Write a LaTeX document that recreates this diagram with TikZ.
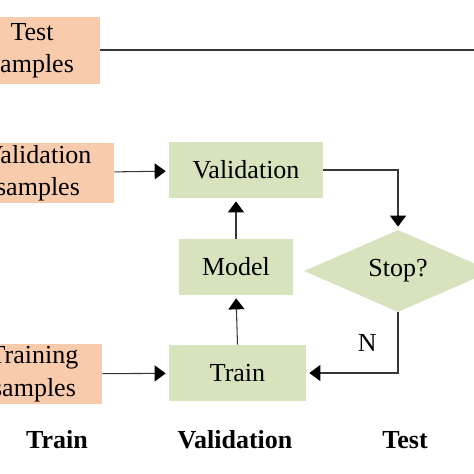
\documentclass[tikz,border=0pt]{standalone}
\usepackage{fontspec}
\setmainfont{Liberation Serif}
\usetikzlibrary{arrows.meta,shapes.geometric}
\definecolor{samplefill}{RGB}{248,203,173}
\definecolor{stagefill}{RGB}{214,227,188}
\definecolor{linegray}{RGB}{55,55,55}

\begin{document}
\begin{tikzpicture}[
  font=\fontsize{14.8pt}{18.4pt}\selectfont,
  sample/.style={rectangle,fill=samplefill,align=center,inner sep=0pt,minimum height=1.2cm},
  stage/.style={rectangle,fill=stagefill,inner sep=0pt,minimum height=1.12cm},
  flow/.style={-{Triangle[length=0.22cm,width=0.32cm,black]},draw=linegray,line width=0.6pt,shorten >=0.06cm},
  phase/.style={font=\fontsize{14.8pt}{18pt}\selectfont\bfseries}
]
\clip (0,0) rectangle (9.48,-9.48);

% Sample sets
\node[sample,minimum width=2.72cm,minimum height=1.34cm] (testsamp) at (0.64,-1.02) {Test\\samples};
\node[sample,minimum width=3.04cm] (valsamp) at (0.76,-3.46) {Validation\\samples};
\node[sample,minimum width=2.72cm] (trainsamp) at (0.68,-7.48) {Training\\samples};

% Training loop
\node[stage,minimum width=3.08cm] (val) at (4.92,-3.40) {Validation};
\node[stage,minimum width=2.28cm] (model) at (4.72,-5.34) {Model};
\node[stage,minimum width=2.74cm] (train) at (4.75,-7.46) {Train};
\node[diamond,fill=stagefill,inner sep=0pt,minimum width=3.76cm,minimum height=1.24cm] (stop) at (7.96,-5.42) {Stop?};
\coordinate (testend) at (10,-1.0);

\draw[draw=linegray,line width=0.6pt] (testsamp.east |- testend) -- (testend);
\draw[flow] (valsamp) -- (val);
\draw[flow] (trainsamp) -- (train);
\draw[flow] (train.north) -- (model.south);
\draw[flow] (model.north) -- (model.north |- val.south);
\draw[flow] (val.east) -| (stop.north);
\draw[flow] (stop.south) |- (train.east) node[pos=0.25,left=0.3cm] {N};

% Phases
\node[phase] (trainlbl) at (1.14,-8.8) {Train};
\node[phase] (vallbl) at (4.70,-8.8) {Validation};
\node[phase] (testlbl) at (8.10,-8.8) {Test};
\end{tikzpicture}
\end{document}
